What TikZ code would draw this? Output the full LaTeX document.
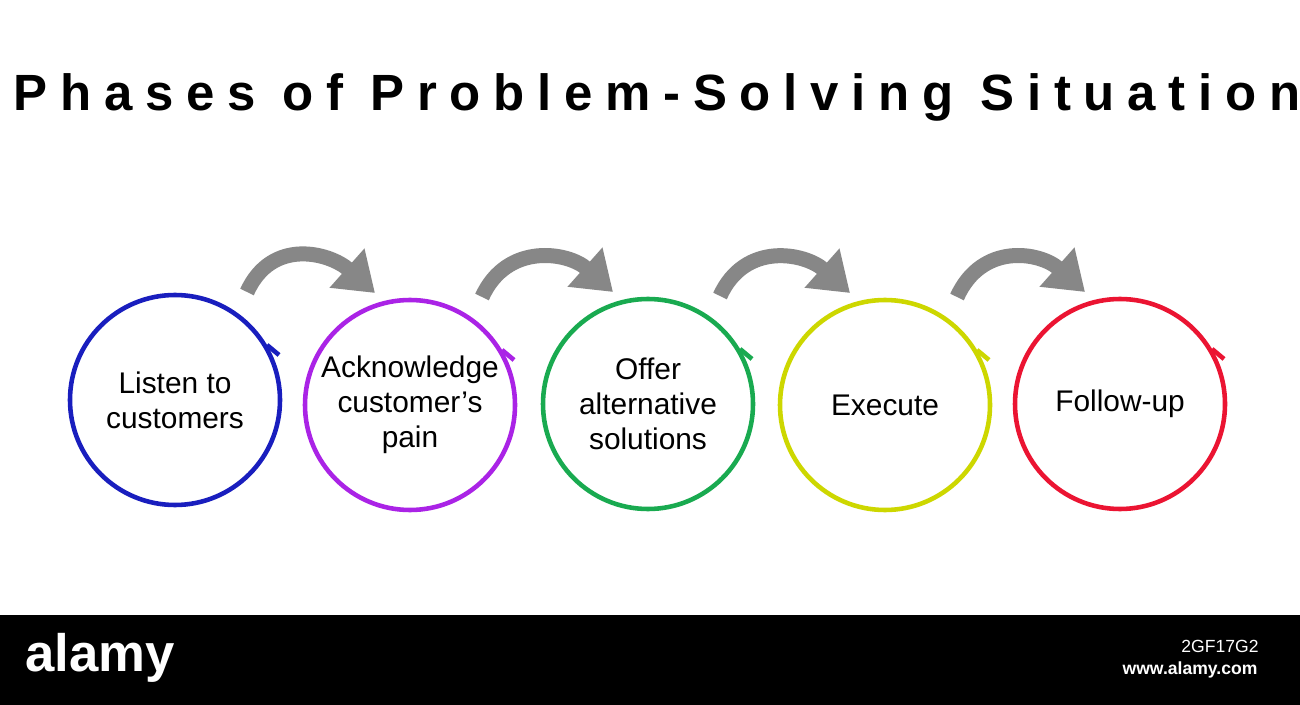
\documentclass[tikz,border=0pt]{standalone}
\usepackage{fontspec}
\setmainfont{Liberation Sans}
\usetikzlibrary{arrows.meta,positioning,calc}
\definecolor{CBlue}{RGB}{25,30,190}
\definecolor{CPurple}{RGB}{170,35,230}
\definecolor{CGreen}{RGB}{25,170,80}
\definecolor{CLime}{RGB}{205,215,0}
\definecolor{CRed}{RGB}{235,20,50}
\definecolor{ArrGray}{RGB}{135,135,135}
\tikzset{
  phase/.style={circle,minimum size=4.2cm,align=center,font=\fontsize{17pt}{20pt}\selectfont},
  ring/.style={line width=2.6pt},
  curvearrow/.style={ArrGray,line width=0.3cm,-{Triangle[length=0.75cm,width=1cm]}}
}
\begin{document}
\begin{tikzpicture}[x=0.02cm,y=-0.02cm]
    \useasboundingbox (0,0) rectangle (1300,705);
    \fill[white] (0,0) rectangle (1300,705);
    \fill[black] (0,615) rectangle (1300,705);
    \node (title) at (657,97) {\fontsize{29pt}{34pt}\selectfont\bfseries\addfontfeature{LetterSpace=25}Phases of Problem-Solving Situation};
    % phases
    \node[phase] (c1) at (175,400) {Listen to\\customers};
    \node[phase] (c2) at (410,405) {Acknowledge\\customer's\\pain};
    \node[phase] (c3) at (648,404) {Offer\\alternative\\solutions};
    \node[phase] (c4) at (885,405) {Execute};
    \node[phase] (c5) at (1120,404) {Follow-up};
    \foreach \c/\col in {c1/CBlue,c2/CPurple,c3/CGreen,c4/CLime,c5/CRed}
    {
        \draw[ring,\col] (\c) circle (105);
        \draw[ring,\col] ($(\c)+(92,-55)$) -- ($(\c)+(104,-45)$);
    }
    % arrows
    \foreach \a/\b in {c1/c2,c2/c3,c3/c4,c4/c5}
    {
        \coordinate (s\a) at ($(\a)+(72,-108)$);
        \coordinate (t\a) at ($(\b)+(-35,-112)$);
        \draw[curvearrow] (s\a) .. controls ($(s\a)+(25,-55)$) and ($(t\a)+(-45,-40)$) .. (t\a);
    }
    \node[white,font=\fontsize{30pt}{32pt}\selectfont\bfseries] (logo) at (100,658) {alamy};
    \node[white,font=\fontsize{10pt}{12pt}\selectfont] (code) at (1220,646) {2GF17G2};
    \node[white,font=\fontsize{10pt}{12pt}\selectfont\bfseries] (site) at (1190,670) {www.alamy.com};
\end{tikzpicture}
\end{document}
